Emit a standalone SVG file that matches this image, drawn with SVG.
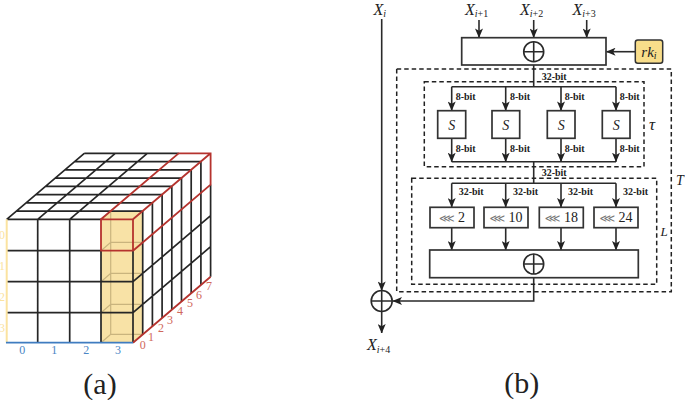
<svg xmlns="http://www.w3.org/2000/svg" width="685" height="400" viewBox="0 0 685 400">
<style>
text{font-family:"Liberation Serif","DejaVu Serif",serif;fill:#222}
.g{fill:none;stroke:#262626;stroke-width:1.7}
.r{fill:none;stroke:#b5332e;stroke-width:1.8}
.t{fill:none;stroke:#c9b47e;stroke-width:1.2}
.ly{font-size:12px;fill:#fbe3a0}
.lb{font-size:12px;fill:#4a86c5}
.lr{font-size:12px;fill:#d0685c}
.b{font-size:10px;font-weight:bold}
.m{font-size:16px;font-style:italic}
.s{font-size:10px;font-style:normal}
.i{font-style:italic}
.box{fill:#fff;stroke:#333;stroke-width:1.7}
.d{fill:none;stroke:#222;stroke-width:1.5;stroke-dasharray:4.5 3}
.c{fill:none;stroke:#2a2a2a;stroke-width:1.6}
.cap{font-size:30px;fill:#222}
.rot{font-family:"DejaVu Sans",sans-serif;font-size:11px;fill:#777}
</style>
<defs>
<marker id="a" viewBox="0 0 10 10" refX="9.5" refY="5" markerWidth="9.5" markerHeight="8" orient="auto" markerUnits="userSpaceOnUse" preserveAspectRatio="none"><path d="M0 0L10 5L0 10L2.5 5Z" fill="#222"/></marker>
</defs>

<g id="cube">
<path d="M101 219.3L110.7 211H142.7V334.4L133 342.7H101Z" fill="#f8e2a6"/>
<path class="t" d="M110.7 211V334.4M101 250.7L110.7 242.4H142.7M101 281.7L110.7 273.4H142.7M101 312.7L110.7 304.4H142.7M101 342.7L110.7 334.4H142.7"/>
<path class="g" d="M6.7 219.3H101M16.4 211.05H142.7M26.1 202.8H152.4M35.8 194.55H162.1M45.5 186.3H171.8M55.2 178.05H181.5M64.9 169.8H191.2M74.6 161.55H200.9M84.3 153.3H178.6
M6.7 219.3L84.3 153.3M37.7 219.3L115.3 153.3M69.7 219.3L147.3 153.3
M6.7 250.7H101M6.7 281.7H133M6.7 312.7H133M37.7 219.3V342.7M69.7 219.3V342.7M101 250.7V342.7M133 250.7V342.7
M142.7 211.05V334.45M152.4 202.8V326.2M162.1 194.55V317.95M171.8 186.3V309.7M181.5 178.05V301.45M191.2 169.8V293.2M200.9 161.55V284.95M210.6 184.7V276.7
M133 281.7L210.6 215.7M133 312.7L210.6 246.7"/>
<path class="r" d="M101 219.3H133V250.7H101ZM101 219.3L178.6 153.3H210.6V184.7L133 250.7M133 219.3L210.6 153.3M133 342.7L210.6 276.7"/>
<path d="M6.7 219.3V342.7" fill="none" stroke="#fbe3a0" stroke-width="2"/>
<path d="M6 342.7H133" fill="none" stroke="#3f7cc0" stroke-width="1.8"/>
<g text-anchor="middle">
<text class="ly" x="2" y="239">0</text><text class="ly" x="2" y="270">1</text><text class="ly" x="2" y="301">2</text><text class="ly" x="2" y="332">3</text>
<text class="lb" x="22.3" y="354">0</text><text class="lb" x="54.3" y="354">1</text><text class="lb" x="86.3" y="354">2</text><text class="lb" x="118" y="354">3</text>
<text class="lr" x="142.7" y="349">0</text><text class="lr" x="151" y="341">1</text><text class="lr" x="161" y="332">2</text><text class="lr" x="170" y="324">3</text><text class="lr" x="180" y="315">4</text><text class="lr" x="190" y="307">5</text><text class="lr" x="199" y="299">6</text><text class="lr" x="209" y="290">7</text>
</g>
</g>
<text class="cap" x="100" y="394" text-anchor="middle">(a)</text>

<g id="connectors">
<path class="c" marker-end="url(#a)" d="M381.7 19V290.5"/>
<path class="c" marker-end="url(#a)" d="M381.7 312V333"/>
<path class="c" marker-end="url(#a)" d="M479 20V37.5"/>
<path class="c" marker-end="url(#a)" d="M533.7 20V37.5"/>
<path class="c" marker-end="url(#a)" d="M586.7 20V37.5"/>
<path class="c" marker-end="url(#a)" d="M635 51.7H606.5"/>
<path class="c" d="M533.7 65V86.7M451.7 86.7H616M533.7 161.7V183.3M451.7 161.7H616M451.7 183.3H616"/>
<path class="c" marker-end="url(#a)" d="M451.7 86.7V110.5"/>
<path class="c" marker-end="url(#a)" d="M505.7 86.7V110.5"/>
<path class="c" marker-end="url(#a)" d="M561 86.7V110.5"/>
<path class="c" marker-end="url(#a)" d="M616 86.7V110.5"/>
<path class="c" marker-end="url(#a)" d="M451.7 138V161.7"/>
<path class="c" marker-end="url(#a)" d="M505.7 138V161.7"/>
<path class="c" marker-end="url(#a)" d="M561 138V161.7"/>
<path class="c" marker-end="url(#a)" d="M616 138V161.7"/>
<path class="c" marker-end="url(#a)" d="M451.7 183.3V207"/>
<path class="c" marker-end="url(#a)" d="M505.7 183.3V207"/>
<path class="c" marker-end="url(#a)" d="M561 183.3V207"/>
<path class="c" marker-end="url(#a)" d="M616 183.3V207"/>
<path class="c" marker-end="url(#a)" d="M451.7 227.7V250"/>
<path class="c" marker-end="url(#a)" d="M505.7 227.7V250"/>
<path class="c" marker-end="url(#a)" d="M561 227.7V250"/>
<path class="c" marker-end="url(#a)" d="M616 227.7V250"/>
<path class="c" marker-end="url(#a)" d="M533.7 277.7V301H393"/>
</g>

<g id="T"><rect class="d" x="396.7" y="69" width="274.6" height="222.7"/><text class="i" x="680" y="185" font-size="14" text-anchor="middle">T</text></g>
<g id="tau"><rect class="d" x="424.3" y="81.7" width="219.7" height="85"/><text class="i" x="652" y="130" font-size="17" text-anchor="middle">τ</text></g>
<g id="L"><rect class="d" x="411.7" y="178.3" width="245" height="106"/><text class="i" x="664" y="236" font-size="13" text-anchor="middle">L</text></g>

<g id="xi"><text class="m" x="373.5" y="14.5">X<tspan class="s i" dy="2">i</tspan></text></g>
<g id="xi1"><text class="m" x="465" y="14.5">X<tspan class="s" dy="2"><tspan class="i">i</tspan>+1</tspan></text></g>
<g id="xi2"><text class="m" x="520" y="14.5">X<tspan class="s" dy="2"><tspan class="i">i</tspan>+2</tspan></text></g>
<g id="xi3"><text class="m" x="572.5" y="14.5">X<tspan class="s" dy="2"><tspan class="i">i</tspan>+3</tspan></text></g>
<g id="xi4"><text class="m" x="367" y="350">X<tspan class="s" dy="3"><tspan class="i">i</tspan>+4</tspan></text></g>

<g id="xor-top"><rect class="box" x="461.7" y="37.7" width="144.3" height="27.3"/><circle class="c" cx="533.7" cy="51.7" r="10"/><path class="c" d="M523.7 51.7H543.7M533.7 41.7V61.7"/></g>
<g id="rk"><rect x="635.3" y="40" width="27.4" height="23.3" rx="2.5" fill="#f8dd8a" stroke="#333" stroke-width="1.5"/><text class="i" x="649" y="56.5" font-size="15" text-anchor="middle">rk<tspan font-size="10" dy="2">i</tspan></text></g>

<g id="s1"><rect class="box" x="437.7" y="110.7" width="28" height="27.6"/><text class="i" x="451.7" y="129.5" font-size="14" text-anchor="middle">S</text></g>
<g id="s2"><rect class="box" x="492" y="110.7" width="27.7" height="27.6"/><text class="i" x="505.8" y="129.5" font-size="14" text-anchor="middle">S</text></g>
<g id="s3"><rect class="box" x="547.3" y="110.7" width="27.7" height="27.6"/><text class="i" x="561.2" y="129.5" font-size="14" text-anchor="middle">S</text></g>
<g id="s4"><rect class="box" x="602.3" y="110.7" width="27.7" height="27.6"/><text class="i" x="616.2" y="129.5" font-size="14" text-anchor="middle">S</text></g>

<g id="r2"><rect class="box" x="430" y="207.3" width="44" height="20.4"/><text x="452" y="222" font-size="14" text-anchor="middle"><tspan class="rot">⋘</tspan> 2</text></g>
<g id="r10"><rect class="box" x="484" y="207.3" width="44" height="20.4"/><text x="506" y="222" font-size="14" text-anchor="middle"><tspan class="rot">⋘</tspan> 10</text></g>
<g id="r18"><rect class="box" x="539.3" y="207.3" width="44" height="20.4"/><text x="561.3" y="222" font-size="14" text-anchor="middle"><tspan class="rot">⋘</tspan> 18</text></g>
<g id="r24"><rect class="box" x="594" y="207.3" width="44" height="20.4"/><text x="616" y="222" font-size="14" text-anchor="middle"><tspan class="rot">⋘</tspan> 24</text></g>

<g id="xor-low"><rect class="box" x="429.7" y="250" width="208.6" height="27.7"/><circle class="c" cx="533.7" cy="264" r="10"/><path class="c" d="M523.7 264H543.7M533.7 254V274"/></g>
<g id="xor-out"><circle class="c" cx="381.7" cy="301" r="10.5"/><path class="c" d="M371.2 301H392.2M381.7 290.5V311.5"/></g>

<g id="bit-labels" class="b">
<text x="541.7" y="79.5">32-bit</text><text x="541.7" y="176">32-bit</text>
<text x="455.7" y="100">8-bit</text><text x="510" y="100">8-bit</text><text x="564.7" y="100">8-bit</text><text x="619.7" y="100">8-bit</text>
<text x="455.7" y="152">8-bit</text><text x="510" y="152">8-bit</text><text x="564.7" y="152">8-bit</text><text x="619.7" y="152">8-bit</text>
<text x="458.7" y="195">32-bit</text><text x="513" y="195">32-bit</text><text x="568" y="195">32-bit</text><text x="623" y="195">32-bit</text>
</g>
<text class="cap" x="521.7" y="393" text-anchor="middle">(b)</text>
</svg>
